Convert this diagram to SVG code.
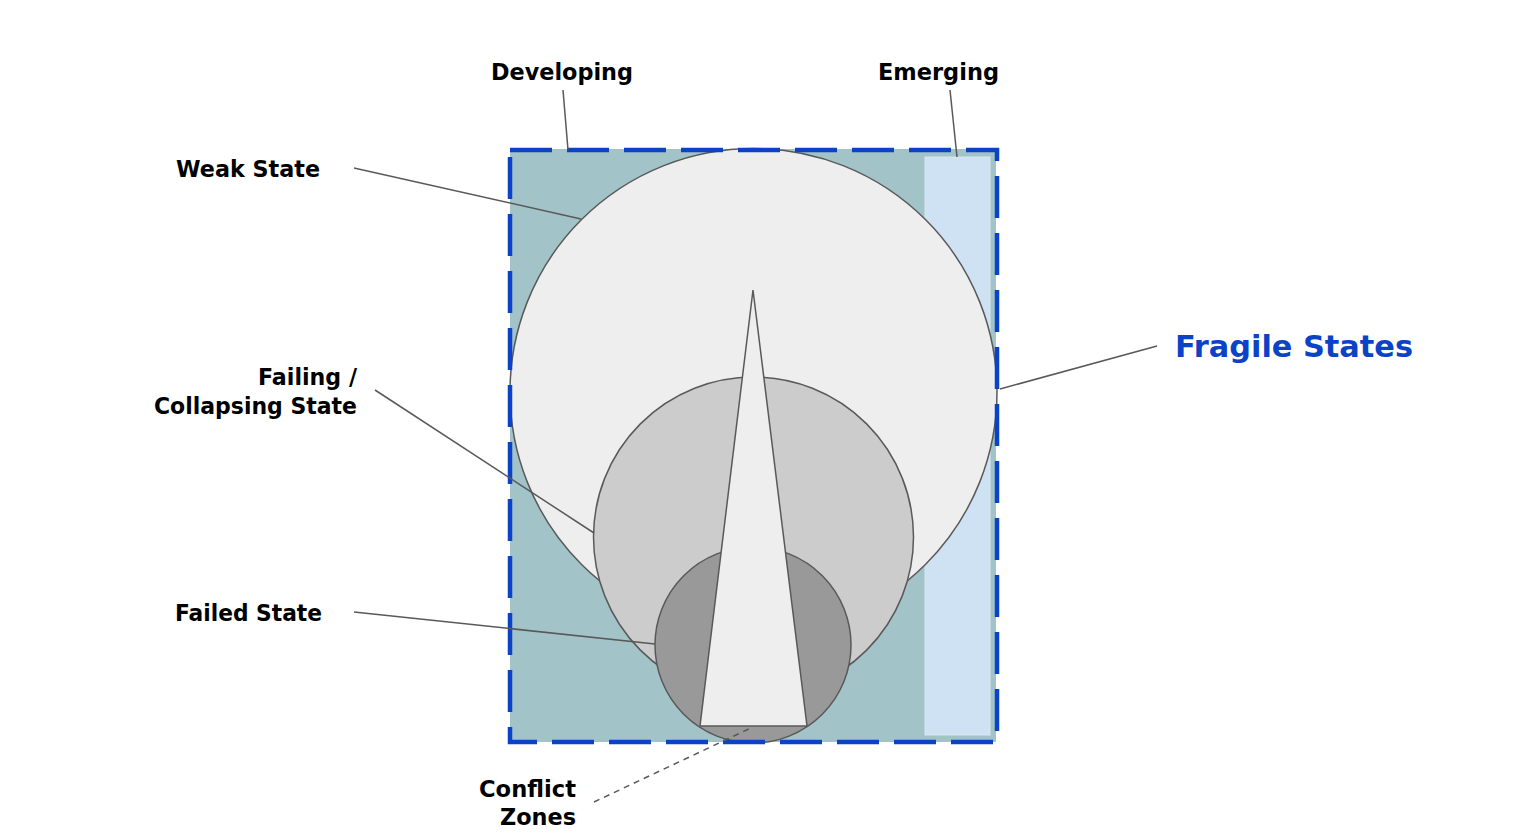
<svg xmlns="http://www.w3.org/2000/svg" width="1520" height="840" viewBox="0 0 1520 840">
<style>
.lbl{font-family:"DejaVu Sans","Liberation Sans",sans-serif;font-weight:bold;font-size:23px;fill:#000}
.shape{stroke:#595959;stroke-width:1.5}
.conn{stroke:#595959;stroke-width:1.5;fill:none}
</style>
<rect width="1520" height="840" fill="#ffffff"/>
<g id="developing-region">
<rect x="510" y="149" width="486" height="593" fill="#a2c4c9"/>
</g>
<g id="emerging-region">
<rect x="925" y="157" width="65" height="578" fill="#cfe2f3" stroke="#d8e6ee" stroke-width="1"/>
</g>
<g id="weak-state">
<circle cx="753.5" cy="392" r="243.5" fill="#eeeeee" class="shape"/>
</g>
<g id="failing-state">
<circle cx="753.5" cy="537" r="160" fill="#cccccc" class="shape"/>
</g>
<g id="failed-state">
<circle cx="753" cy="645" r="98" fill="#999999" class="shape"/>
</g>
<g id="conflict-zones">
<polygon points="753,290 807,726 700,726" fill="#eeeeee" stroke="#595959" stroke-width="1.5" stroke-linejoin="miter"/>
</g>
<g id="fragile-states-boundary">
<rect x="510" y="150" width="487" height="592" fill="none" stroke="#0a42c8" stroke-width="4.5" stroke-dasharray="42 15"/>
</g>
<g id="connectors">
<line class="conn" x1="563" y1="90" x2="568" y2="150"/>
<line class="conn" x1="950" y1="90" x2="957" y2="157"/>
<line class="conn" x1="354" y1="168" x2="581" y2="219"/>
<line class="conn" x1="1157" y1="346" x2="1000" y2="389"/>
<line class="conn" x1="375" y1="390" x2="594" y2="533"/>
<line class="conn" x1="354" y1="612" x2="655" y2="644"/>
<line class="conn" x1="594" y1="802" x2="753" y2="727" stroke-dasharray="6 5"/>
</g>
<g id="labels">
<text class="lbl" x="562" y="80" text-anchor="middle" textLength="142" lengthAdjust="spacingAndGlyphs">Developing</text>
<text class="lbl" x="938.5" y="80" text-anchor="middle" textLength="121" lengthAdjust="spacingAndGlyphs">Emerging</text>
<text class="lbl" x="320" y="177" text-anchor="end" textLength="144" lengthAdjust="spacingAndGlyphs">Weak State</text>
<text class="lbl" x="357" y="385" text-anchor="end" textLength="99" lengthAdjust="spacingAndGlyphs">Failing /</text>
<text class="lbl" x="357" y="414" text-anchor="end" textLength="203" lengthAdjust="spacingAndGlyphs">Collapsing State</text>
<text class="lbl" x="322" y="621" text-anchor="end" textLength="147" lengthAdjust="spacingAndGlyphs">Failed State</text>
<text class="lbl" x="576" y="797" text-anchor="end" textLength="97" lengthAdjust="spacingAndGlyphs">Conflict</text>
<text class="lbl" x="576" y="825" text-anchor="end" textLength="76" lengthAdjust="spacingAndGlyphs">Zones</text>
<text x="1175" y="357" style="font-family:'DejaVu Sans','Liberation Sans',sans-serif;font-weight:bold;font-size:31px;fill:#0a42c8" textLength="238" lengthAdjust="spacingAndGlyphs">Fragile States</text>
</g>
</svg>
